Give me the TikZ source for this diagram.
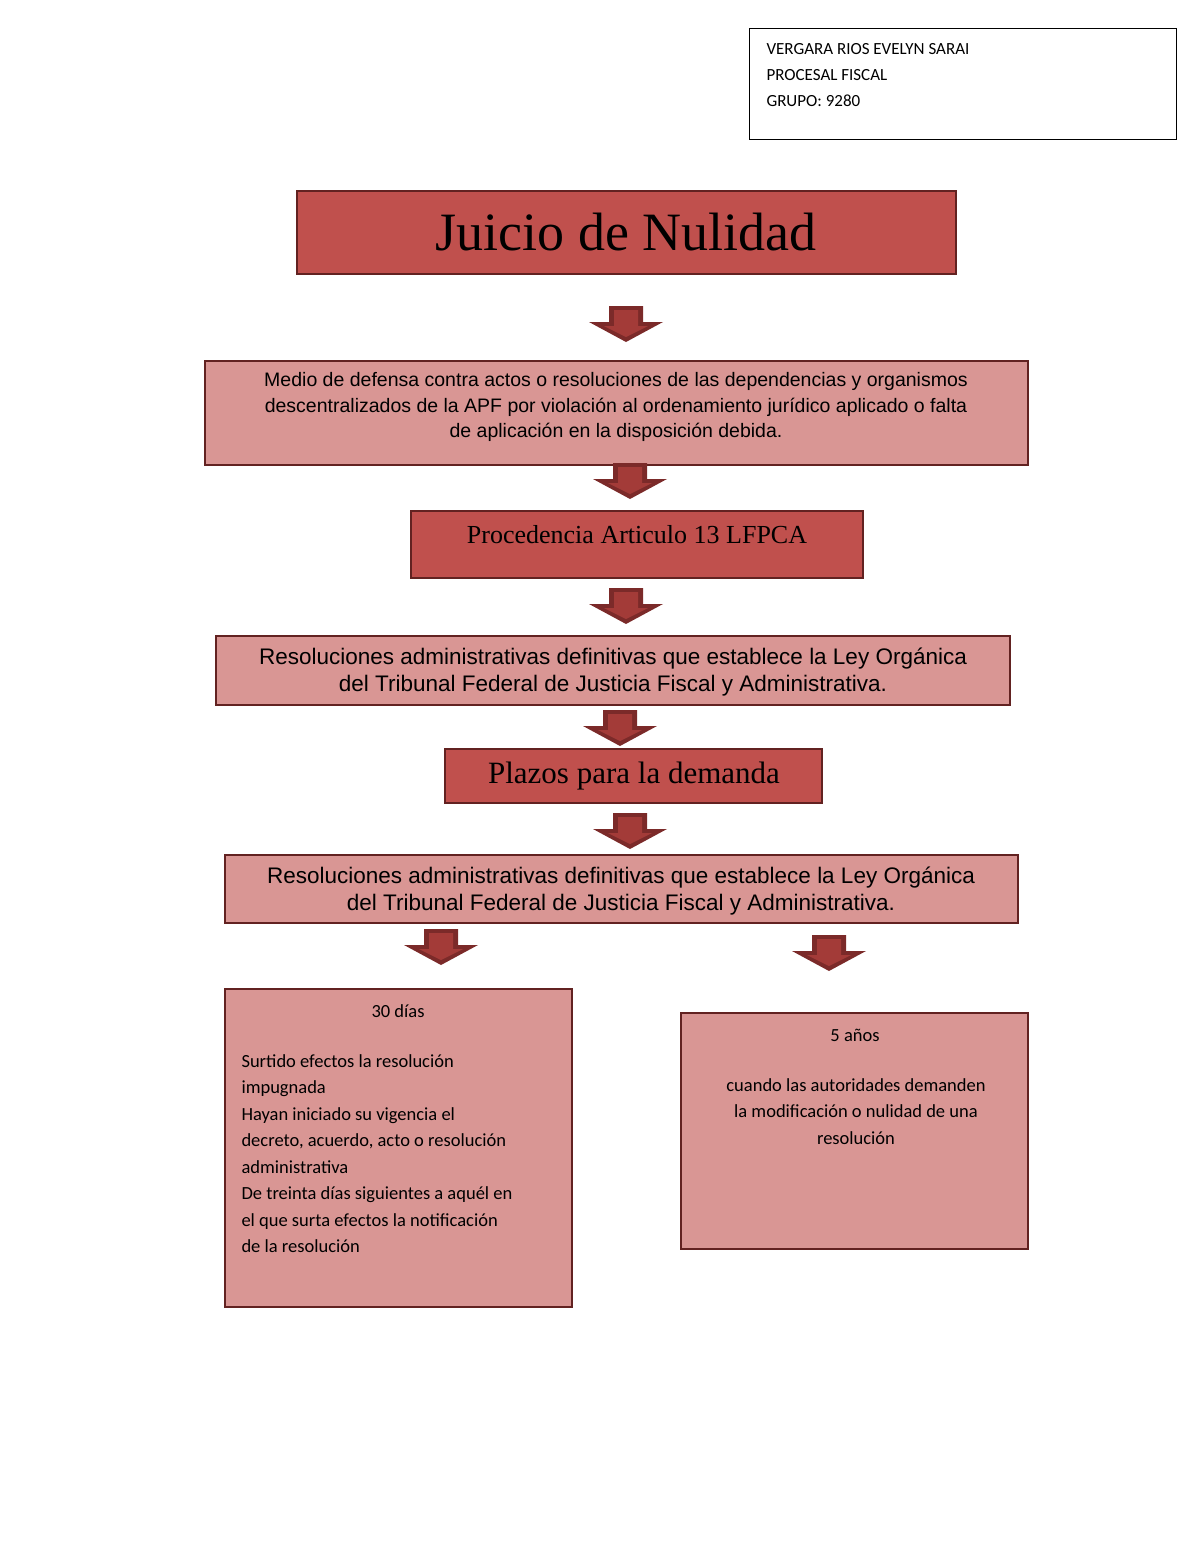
\documentclass[tikz,border=0pt]{standalone}
\usepackage{fontspec}
\setmainfont{Liberation Sans}
\newfontfamily\calfnt{Carlito}
\newfontfamily\serfnt{Liberation Serif}
\definecolor{dk}{HTML}{C0504D}
\definecolor{lt}{HTML}{D99694}
\definecolor{ar}{HTML}{7B2A29}
\definecolor{ari}{HTML}{A33B38}
\tikzset{
 dbox/.style={draw=ar!80!black,line width=1.2pt,fill=dk},
 lbox/.style={draw=ar!80!black,line width=1.2pt,fill=lt},
}
\newcommand{\darr}[3]{%
 \fill[ar] (#1-17,#2) -- (#1+17,#2) -- (#1+17,#2+16) -- (#1+37,#2+16) -- (#1,#2+36) -- (#1-37,#2+16) -- (#1-17,#2+16) -- cycle;
 \fill[ari] (#1-12,#2+4) -- (#1+12,#2+4) -- (#1+12,#2+20) -- (#1+22,#2+20) -- (#1,#2+31) -- (#1-22,#2+20) -- (#1-12,#2+20) -- cycle;
 \coordinate (#3) at (#1,#2);}
\begin{document}
\begin{tikzpicture}[x=1pt,y=-1pt]
\useasboundingbox (0,0) rectangle (1200,1553);
\draw[line width=1pt] (749,28) rectangle (1176,139);
\node[anchor=west,font=\calfnt\fontsize{17}{26}\selectfont,align=left] (hdr) at (763,75) {VERGARA RIOS EVELYN SARAI\\PROCESAL FISCAL\\GRUPO: 9280};
\draw[dbox] (297,191) rectangle (956,274);
\node[font=\serfnt\fontsize{54}{60}\selectfont] (t) at (626,232) {Juicio de Nulidad};
\darr{626}{306}{a1}
\draw[lbox] (205,361) rectangle (1028,465);
\node[font=\fontsize{19.5}{25.5}\selectfont,align=center] (b1) at (616,407) {Medio de defensa contra actos o resoluciones de las dependencias y organismos\\descentralizados de la APF por violación al ordenamiento jurídico aplicado o falta\\de aplicación en la disposición debida.};
\darr{630}{463}{a2}
\draw[dbox] (411,511) rectangle (863,578);
\node[font=\serfnt\fontsize{26}{30}\selectfont] (b2) at (637,535) {Procedencia Articulo 13 LFPCA};
\darr{626}{588}{a3}
\draw[lbox] (216,636) rectangle (1010,705);
\node[font=\fontsize{22.5}{27}\selectfont,align=center] (b3) at (613,672) {Resoluciones administrativas definitivas que establece la Ley Orgánica\\del Tribunal Federal de Justicia Fiscal y Administrativa.};
\darr{620}{710}{a4}
\draw[dbox] (445,749) rectangle (822,803);
\node[font=\serfnt\fontsize{31}{36}\selectfont] (b4) at (634,776) {Plazos para la demanda};
\darr{630}{813}{a5}
\draw[lbox] (225,855) rectangle (1018,923);
\node[font=\fontsize{22.5}{27}\selectfont,align=center] (b5) at (621,891) {Resoluciones administrativas definitivas que establece la Ley Orgánica\\del Tribunal Federal de Justicia Fiscal y Administrativa.};
\darr{441}{929}{a6}
\darr{829}{935}{a7}
\draw[lbox] (225,989) rectangle (572,1307);
\node[font=\calfnt\fontsize{18.5}{26.5}\selectfont] (c0) at (398,1011) {30 días};
\node[anchor=north west,font=\calfnt\fontsize{18.5}{26.5}\selectfont,align=left] (c1) at (238,1051) {Surtido efectos la resolución\\impugnada\\Hayan iniciado su vigencia el\\decreto, acuerdo, acto o resolución\\administrativa\\De treinta días siguientes a aquél en\\el que surta efectos la notificación\\de la resolución};
\draw[lbox] (681,1013) rectangle (1028,1249);
\node[font=\calfnt\fontsize{18.5}{26.5}\selectfont] (d0) at (855,1035) {5 años};
\node[anchor=north,font=\calfnt\fontsize{18.5}{26.5}\selectfont,align=center] (d1) at (856,1075) {cuando las autoridades demanden\\la modificación o nulidad de una\\resolución};
\end{tikzpicture}
\end{document}
